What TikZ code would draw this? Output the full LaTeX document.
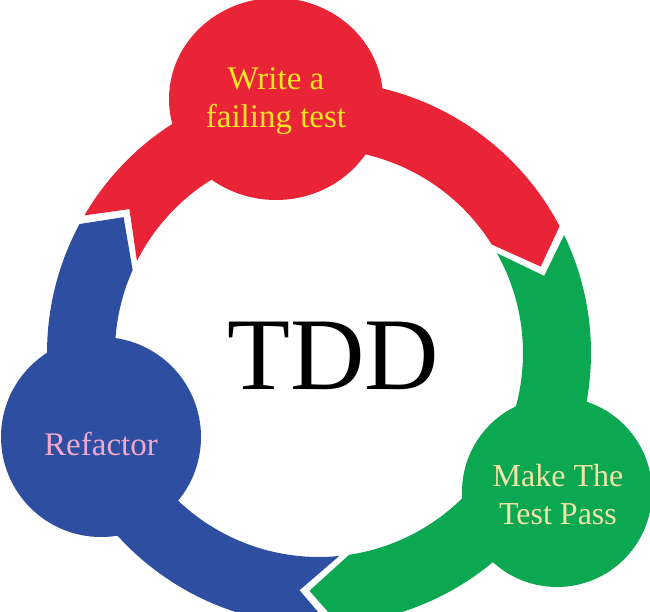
\documentclass[tikz,border=0pt]{standalone}
\usepackage{fontspec}
\setmainfont{Liberation Serif}
\usetikzlibrary{shapes.geometric}
\definecolor{tddred}{RGB}{232,36,54}
\definecolor{tddgreen}{RGB}{11,167,81}
\definecolor{tddblue}{RGB}{46,78,161}
\definecolor{txtyellow}{RGB}{250,228,40}
\definecolor{txtpink}{RGB}{242,168,204}
\definecolor{txtcream}{RGB}{242,228,168}
\begin{document}
\begin{tikzpicture}[x=1pt,y=1pt,
  lbl/.style={font=\fontsize{33}{38}\selectfont, align=center, inner sep=0pt},
  blob/.style={ellipse, inner sep=0pt, draw=none},
  seg/.style={shift={(319,258)}}]
\useasboundingbox (0,0) rectangle (650,611);
\coordinate (C) at (319,258);
% ring segments (clockwise, each starts with a notch and ends with a tip)
\fill[tddred,seg] (142.8:238) -- (149.6:272)
  arc[start angle=149.6, end angle=27.8, radius=272]
  -- (21.3:238) -- (32.1:204)
  arc[start angle=32.1, end angle=153.2, radius=204] -- cycle;
\fill[tddgreen,seg] (18.9:238) -- (25.7:272)
  arc[start angle=25.7, end angle=-85.8, radius=272]
  -- (-92.3:238) -- (-81.5:204)
  arc[start angle=-81.5, end angle=29.3, radius=204] -- cycle;
\fill[tddblue,seg] (265.3:238) -- (272.1:272)
  arc[start angle=272.1, end angle=151.7, radius=272]
  -- (145.2:238) -- (156.0:204)
  arc[start angle=156.0, end angle=275.7, radius=204] -- cycle;
% circles
\node[blob, fill=tddred, minimum width=214pt, minimum height=202pt] (writec) at (276,512) {};
\node[blob, fill=tddblue, minimum size=200pt] (refc) at (101,174) {};
\node[blob, fill=tddgreen, minimum size=190pt] (passc) at (557,119) {};
% labels
\node[lbl, text=txtyellow] (write) at (276,510) {Write a\\failing test};
\node[lbl, text=txtpink] (refactor) at (101,167) {Refactor};
\node[lbl, text=txtcream, font=\fontsize{32}{38}\selectfont] (pass) at (558,116) {Make The\\Test Pass};
\node[font=\fontsize{103}{110}\selectfont, inner sep=0pt] (tdd) at (333,255) {TDD};
\end{tikzpicture}
\end{document}
